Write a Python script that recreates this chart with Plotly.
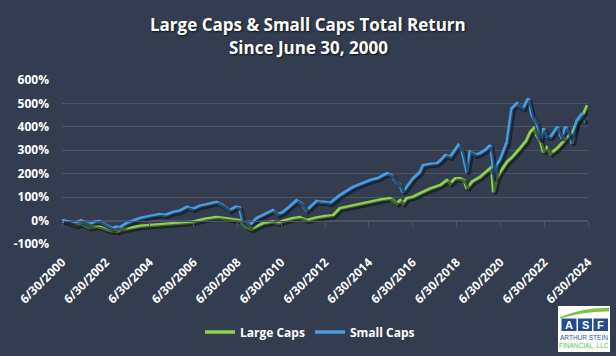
import plotly.graph_objects as go

# ---------------- data ----------------
small_years = [2000.50, 2000.84, 2001.10, 2001.37, 2001.57, 2001.75, 2002.00, 2002.20, 2002.52, 2002.80,
               2003.00, 2003.12, 2003.43, 2003.72, 2004.05, 2004.50, 2004.95, 2005.20, 2005.55, 2005.85,
               2006.20, 2006.46, 2006.78, 2007.09, 2007.55, 2007.83, 2008.15, 2008.43, 2008.60, 2008.75,
               2009.07, 2009.38, 2009.75, 2010.12, 2010.35, 2010.58, 2010.90, 2011.20, 2011.45, 2011.66,
               2011.86, 2012.12, 2012.27, 2012.50, 2012.73, 2013.18, 2013.78, 2014.10, 2014.56, 2014.92,
               2015.32, 2015.55, 2015.74, 2015.93, 2016.06, 2016.29, 2016.52, 2016.84, 2016.98, 2017.30,
               2017.60, 2017.76, 2017.99, 2018.22, 2018.44, 2018.58, 2018.76, 2018.98, 2019.12, 2019.36,
               2019.58, 2019.81, 2020.04, 2020.13, 2020.22, 2020.35, 2020.50, 2020.81, 2021.03, 2021.26,
               2021.41, 2021.55, 2021.78, 2021.95, 2022.18, 2022.33, 2022.47, 2022.61, 2022.80, 2023.10,
               2023.32, 2023.47, 2023.60, 2023.78, 2024.00, 2024.24, 2024.35, 2024.47]
small_caps = [0, -8, -12, 0, -8, -17, -6, -4, -21, -34,
              -28, -32, -13, -2, 9, 18, 26, 22, 35, 40,
              57, 48, 62, 68, 78, 64, 43, 58, 55, 0,
              -21, 9, 25, 43, 25, 35, 60, 85, 70, 43,
              60, 82, 78, 78, 73, 107, 142, 155, 171, 180,
              200, 192, 165, 150, 121, 150, 179, 206, 235, 240,
              243, 255, 278, 271, 300, 320, 300, 206, 292, 280,
              286, 300, 320, 270, 175, 240, 260, 335, 478, 500,
              485, 478, 521, 449, 415, 342, 393, 360, 356, 399,
              350, 399, 380, 329, 427, 457, 430, 441]

large_years = [2000.50, 2000.84, 2001.14, 2001.39, 2001.75, 2002.03, 2002.20, 2002.67, 2003.03, 2003.30,
               2003.72, 2004.08, 2004.50, 2004.95, 2005.41, 2005.87, 2006.46, 2007.00, 2007.55, 2007.83,
               2008.24, 2008.60, 2008.92, 2009.15, 2009.66, 2010.12, 2010.35, 2010.58, 2011.00, 2011.36,
               2011.66, 2012.04, 2012.50, 2012.86, 2013.18, 2013.87, 2014.56, 2015.02, 2015.47, 2015.78,
               2015.93, 2016.06, 2016.23, 2016.52, 2016.84, 2017.30, 2017.76, 2018.06, 2018.22, 2018.44,
               2018.67, 2018.85, 2018.98, 2019.22, 2019.58, 2019.84, 2020.04, 2020.13, 2020.19, 2020.35,
               2020.50, 2020.81, 2021.05, 2021.41, 2021.69, 2021.87, 2022.02, 2022.19, 2022.33, 2022.47,
               2022.61, 2022.80, 2023.10, 2023.32, 2023.55, 2023.78, 2024.00, 2024.27, 2024.47]
large_caps = [0, -12, -21, -14, -30, -25, -27, -43, -46, -38,
              -30, -24, -21, -17, -13, -11, -7, 6, 13, 10,
              3, 0, -30, -37, -13, -5, -12, -3, 8, 13,
              0, 10, 17, 21, 51, 65, 81, 88, 94, 73,
              85, 73, 94, 100, 115, 135, 150, 171, 158, 179,
              179, 170, 137, 165, 185, 205, 222, 200, 121, 180,
              206, 249, 270, 308, 340, 377, 392, 360, 342, 292,
              310, 286, 308, 330, 356, 372, 420, 449, 491]

tick_years = [2000.5, 2002.5, 2004.5, 2006.5, 2008.5, 2010.5, 2012.5,
              2014.5, 2016.5, 2018.5, 2020.5, 2022.5, 2024.5]
tick_labels = ["6/30/2000", "6/30/2002", "6/30/2004", "6/30/2006", "6/30/2008", "6/30/2010",
               "6/30/2012", "6/30/2014", "6/30/2016", "6/30/2018", "6/30/2020", "6/30/2022",
               "6/30/2024"]
y_ticks = [-100, 0, 100, 200, 300, 400, 500, 600]
title_lines = ["Large Caps & Small Caps Total Return", "Since June 30, 2000"]

# ---------------- style ----------------
W, H = 616, 356
ML, MR, MT, MB = 62, 28, 80, 112
BG = "#333D4F"
GRID = "#4B5567"
GREEN = "#8FD14F"
BLUE = "#4A9DE3"
FONT = "Open Sans"
PW, PH = W - ML - MR, H - MT - MB
XR = [2000.5, 2024.5]
YR = [-100, 600]


def px(x):
    return (x - ML) / PW


def py(y):
    return 1 - (y - MT) / PH


fig = go.Figure()

# soft drop shadow (same series drawn on an offset overlay axis)
sx = (XR[1] - XR[0]) / PW * 2
sy = (YR[1] - YR[0]) / PH * 2
for yrs, vals in ((large_years, large_caps), (small_years, small_caps)):
    fig.add_trace(go.Scatter(x=yrs, y=vals, mode="lines", xaxis="x3", yaxis="y3",
                             line=dict(color="rgba(10,14,22,0.55)", width=3.6),
                             showlegend=False, hoverinfo="skip"))

fig.add_trace(go.Scatter(x=large_years, y=large_caps, mode="lines", name="Large Caps",
                         line=dict(color=GREEN, width=3.5)))
fig.add_trace(go.Scatter(x=small_years, y=small_caps, mode="lines", name="Small Caps",
                         line=dict(color=BLUE, width=3.5)))

# invisible trace to instantiate the 0% axis line with tick marks
fig.add_trace(go.Scatter(x=[XR[0]], y=[0], xaxis="x2", mode="markers",
                         marker=dict(opacity=0), showlegend=False, hoverinfo="skip"))

tick_font = dict(family=FONT, size=12, color="white", weight="bold")

fig.update_layout(
    width=W, height=H, autosize=False,
    margin=dict(l=ML, r=MR, t=MT, b=MB, autoexpand=False),
    paper_bgcolor=BG, plot_bgcolor=BG,
    xaxis=dict(range=XR, tickmode="array", tickvals=tick_years, ticktext=tick_labels,
               tickangle=-45, tickfont=tick_font, showgrid=False, zeroline=False,
               showline=False, ticks="", ticklabelstandoff=8),
    xaxis2=dict(range=XR, overlaying="x", anchor="free", position=(0 - YR[0]) / (YR[1] - YR[0]),
                tickmode="array", tickvals=tick_years, showticklabels=False,
                ticks="outside", ticklen=5, tickcolor=GRID, tickwidth=1,
                showline=True, linecolor=GRID, linewidth=1, showgrid=False, zeroline=False),
    xaxis3=dict(range=[XR[0] - sx, XR[1] - sx], overlaying="x", visible=False),
    yaxis=dict(range=YR, tickmode="array", tickvals=y_ticks,
               ticktext=[f"{v}%" for v in y_ticks], tickfont=tick_font,
               showgrid=True, gridcolor=GRID, gridwidth=1, zeroline=False,
               ticks="", ticklabelstandoff=12),
    yaxis3=dict(range=[YR[0] + sy, YR[1] + sy], overlaying="y", visible=False),
    legend=dict(orientation="h", x=px(310), xanchor="center",
                y=py(332), yanchor="middle",
                font=dict(family=FONT, size=12, color="white", weight="bold"),
                itemwidth=30, bgcolor="rgba(0,0,0,0)"),
    showlegend=True,
)

# ---------------- ASF logo ----------------
shapes = [
    dict(type="rect", xref="paper", yref="paper", x0=px(558), x1=px(610), y0=py(306), y1=py(352),
         fillcolor="white", line=dict(width=0), layer="above"),
    dict(type="path", xref="paper", yref="paper", layer="above",
         path=(f"M {px(560)},{py(317)} Q {px(585)},{py(307)} {px(609)},{py(308)} "
               f"L {px(609)},{py(311.5)} Q {px(585)},{py(311)} {px(560)},{py(318.5)} Z"),
         fillcolor="#7DC242", line=dict(width=0)),
]
for x0, x1 in ((561.5, 576.5), (578, 592), (593.5, 608)):
    shapes.append(dict(type="rect", xref="paper", yref="paper", x0=px(x0), x1=px(x1),
                       y0=py(318.5), y1=py(331), fillcolor="#264C8E", line=dict(width=0),
                       layer="above"))
fig.update_layout(shapes=shapes)

ann = []
# title (two centred lines with a soft shadow)
for line, cy in zip(title_lines, (25, 47)):
    ann.append(dict(text=line, xref="paper", yref="paper", x=px(W / 2), y=py(cy),
                    xanchor="center", yanchor="middle", showarrow=False,
                    font=dict(family=FONT, size=17, color="white", weight="bold",
                              shadow="1px 1px 2px rgba(0,0,0,0.7)")))
for letter, cx in (("A", 569), ("S", 585), ("F", 600.7)):
    ann.append(dict(text=letter, xref="paper", yref="paper", x=px(cx), y=py(324.8),
                    xanchor="center", yanchor="middle", showarrow=False,
                    font=dict(family="Liberation Sans", size=11, color="white", weight="bold")))
ann.append(dict(text="ARTHUR STEIN", xref="paper", yref="paper", x=px(584), y=py(337.5),
                xanchor="center", yanchor="middle", showarrow=False,
                font=dict(family="Liberation Sans Narrow, Liberation Sans", size=6.5, color="#2F5597")))
ann.append(dict(text="FINANCIAL, LLC", xref="paper", yref="paper", x=px(584), y=py(345.5),
                xanchor="center", yanchor="middle", showarrow=False,
                font=dict(family="Liberation Sans Narrow, Liberation Sans", size=6.5, color="#6DBE45")))
fig.update_layout(annotations=ann)

fig.write_html("out.html", config={"displayModeBar": False},
               post_script="document.body.style.margin='0';document.body.style.padding='0';"
                           "document.body.style.overflow='hidden';"
                           "document.documentElement.style.overflow='hidden';")
